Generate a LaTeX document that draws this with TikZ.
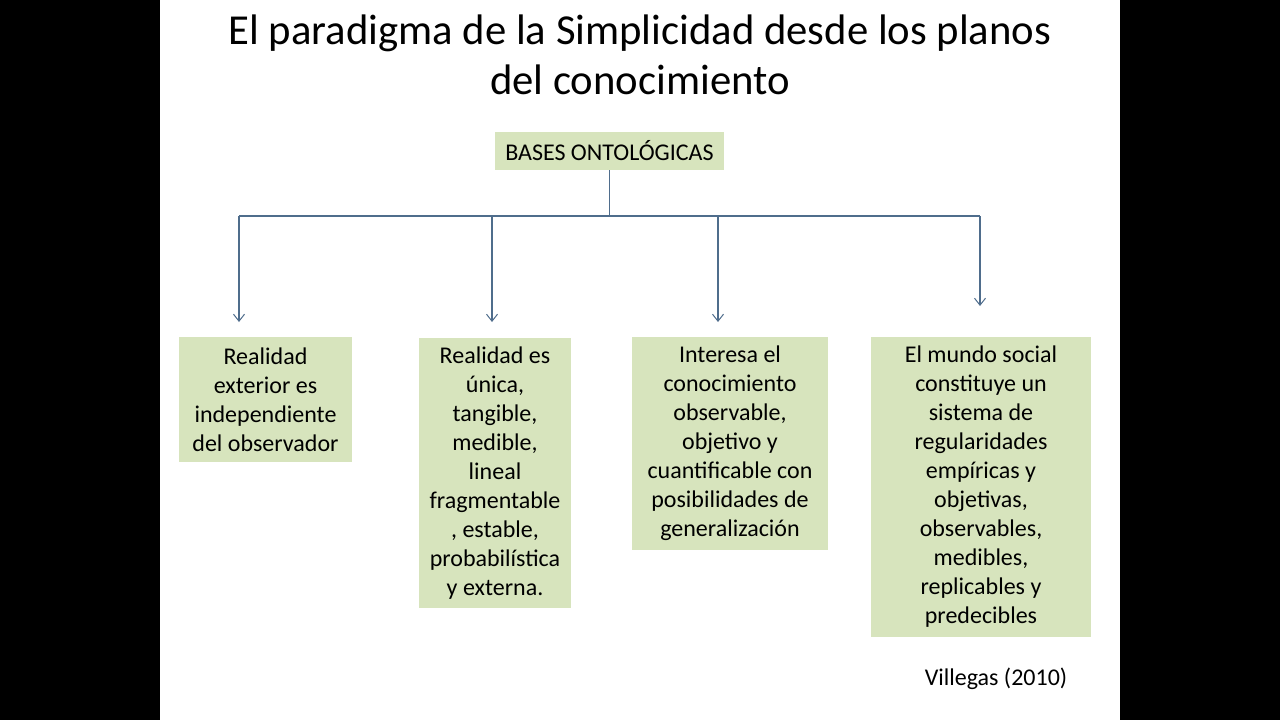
\documentclass[tikz,border=0pt]{standalone}
\usepackage{fontspec}
\setmainfont{Carlito}
\usetikzlibrary{arrows.meta}
\definecolor{boxfill}{RGB}{215,228,189}
\definecolor{linec}{RGB}{79,109,140}
\tikzset{
  greenbox/.style={fill=boxfill, draw=none, align=center, inner sep=0pt,
    font=\fontsize{24}{29}\selectfont},
  conn/.style={draw=linec, line width=1.2pt},
  arr/.style={conn, -{Straight Barb[length=7pt,width=11pt,line width=1pt]}}
}
\begin{document}
\begin{tikzpicture}[x=1pt,y=-1pt]
\fill[black] (0,0) rectangle (1280,720);
\fill[white] (160,0) rectangle (1120,720);
\useasboundingbox (0,0) rectangle (1280,720);

\node[align=center, font=\fontsize{42.7}{50}\selectfont] (title) at (640,55)
  {El paradigma de la Simplicidad desde los planos\\del conocimiento};

\node[greenbox, minimum width=229pt, minimum height=38pt] (hdr) at (609.5,151)
  {BASES ONTOLÓGICAS};

\node[greenbox, minimum width=173pt, minimum height=125pt] (b1) at (265.5,399.5)
  {Realidad\\exterior es\\independiente\\del observador};
\node[greenbox, minimum width=152pt, minimum height=270pt] (b2) at (495,473)
  {Realidad es\\única,\\tangible,\\medible,\\lineal\\fragmentable\\, estable,\\probabilística\\y externa.};
\node[greenbox, minimum width=196pt, minimum height=213pt] (b3) at (730,443.5)
  {Interesa el\\conocimiento\\observable,\\objetivo y\\cuantificable con\\posibilidades de\\generalización};
\node[greenbox, minimum width=220pt, minimum height=300pt] (b4) at (981,487)
  {El mundo social\\constituye un\\sistema de\\regularidades\\empíricas y\\objetivas,\\observables,\\medibles,\\replicables y\\predecibles};

\node[font=\fontsize{24}{29}\selectfont] (src) at (996,679) {Villegas (2010)};

\coordinate (j) at (609.5,216);
\coordinate (h1) at (239,216);
\coordinate (h2) at (492,216);
\coordinate (h3) at (718,216);
\coordinate (h4) at (980,216);
\coordinate (e1) at (239,322);
\coordinate (e2) at (492,322);
\coordinate (e3) at (718,322);
\coordinate (e4) at (980,306);

\draw[conn] (hdr.south) -- (j);
\draw[conn] (h1) -- (h4);
\draw[arr] (h1) -- (e1);
\draw[arr] (h2) -- (e2);
\draw[arr] (h3) -- (e3);
\draw[arr] (h4) -- (e4);
\end{tikzpicture}
\end{document}
